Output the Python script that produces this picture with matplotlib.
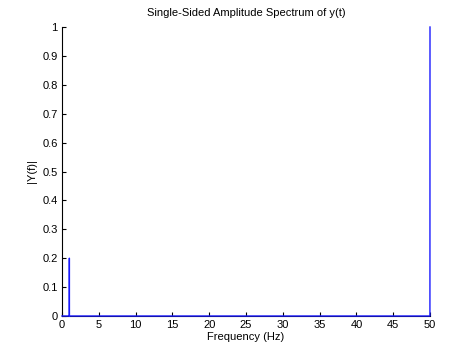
import matplotlib
matplotlib.use('Agg')
import matplotlib.pyplot as plt

# single-sided amplitude spectrum (sparse points, flat zero elsewhere)
freq = [0, 0.99, 1.0, 1.01, 49.99, 50.0]
amp = [0, 0, 0.2, 0, 0, 1.0]

xticks = [0, 5, 10, 15, 20, 25, 30, 35, 40, 45, 50]
yticks = [0, 0.1, 0.2, 0.3, 0.4, 0.5, 0.6, 0.7, 0.8, 0.9, 1]

plt.rcParams['font.family'] = ['Liberation Sans', 'DejaVu Sans']
plt.rcParams['font.size'] = 8

fig = plt.figure(figsize=(4.74, 3.55), dpi=100)
ax = fig.add_axes([62/474, 1 - 316/355, 368/474, 289/355])
ax.plot(freq, amp, color='#1a1aff', linewidth=1, clip_on=False, zorder=3)

ax.set_xlim(0, 50)
ax.set_ylim(0, 1)
ax.set_xticks(xticks)
ax.set_xticklabels([str(t) for t in xticks])
ax.set_yticks(yticks)
ax.set_yticklabels([('%g' % t) for t in yticks])
ax.tick_params(direction='in', length=3, width=0.8, pad=3)
ax.spines['top'].set_visible(False)
ax.spines['right'].set_visible(False)

ax.set_title('Single-Sided Amplitude Spectrum of y(t)', fontsize=8, pad=8)
ax.set_xlabel('Frequency (Hz)', labelpad=1)
ax.set_ylabel('|Y(f)|', labelpad=4)

fig.savefig('out.png', dpi=100)
